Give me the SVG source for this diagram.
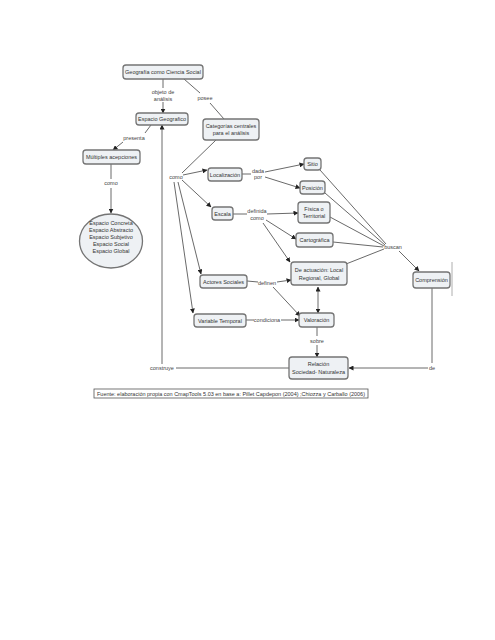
<svg xmlns="http://www.w3.org/2000/svg" width="495" height="640" viewBox="0 0 495 640">
<style>
.n{fill:#eef1f4;stroke:#747474;stroke-width:1.3}
.t{font-family:"Liberation Sans",Arial,sans-serif;font-size:5.5px;fill:#333;text-anchor:middle}
.l{font-family:"Liberation Sans",Arial,sans-serif;font-size:5.5px;fill:#444;text-anchor:middle}
.c{fill:none;stroke:#6a6a6a;stroke-width:1}
.a{marker-end:url(#ar)}
</style>
<defs>
<marker id="ar" markerUnits="userSpaceOnUse" markerWidth="5" markerHeight="5" refX="4.5" refY="2.5" orient="auto">
<path d="M0,0 L5,2.5 L0,5 z" fill="#222"/>
</marker>
<marker id="as" markerUnits="userSpaceOnUse" markerWidth="5" markerHeight="5" refX="0.5" refY="2.5" orient="auto">
<path d="M5,0 L0,2.5 L5,5 z" fill="#222"/>
</marker>
</defs>
<rect width="495" height="640" fill="#fff"/>
<g id="connectors">
<line class="c" x1="163" y1="79" x2="163" y2="88"/>
<line class="c a" x1="163" y1="102" x2="163" y2="113"/>
<line class="c" x1="184" y1="79" x2="200" y2="93"/>
<line class="c" x1="210" y1="103" x2="224" y2="119"/>
<line class="c" x1="151" y1="125" x2="145" y2="133"/>
<line class="c a" x1="123" y1="142" x2="113" y2="150"/>
<line class="c" x1="111" y1="164" x2="111" y2="179"/>
<line class="c a" x1="111" y1="188" x2="111" y2="213"/>
<line class="c" x1="289" y1="368" x2="176" y2="368"/>
<line class="c a" x1="162" y1="364" x2="162" y2="125"/>
<line class="c" x1="216" y1="140" x2="182" y2="173"/>
<line class="c a" x1="183" y1="175" x2="207" y2="170"/>
<line class="c a" x1="182" y1="180" x2="211" y2="207"/>
<line class="c a" x1="178" y1="182" x2="201" y2="274"/>
<line class="c a" x1="174" y1="182" x2="193" y2="313"/>
<line class="c" x1="242" y1="174" x2="251" y2="174"/>
<line class="c a" x1="265" y1="172" x2="304" y2="164"/>
<line class="c a" x1="265" y1="177" x2="300" y2="188"/>
<line class="c" x1="233" y1="214" x2="247" y2="214"/>
<line class="c a" x1="267" y1="214" x2="298" y2="213"/>
<line class="c a" x1="266" y1="220" x2="296" y2="239"/>
<line class="c a" x1="263" y1="223" x2="290" y2="262"/>
<line class="c" x1="247" y1="281" x2="258" y2="282"/>
<line class="c a" x1="277" y1="282" x2="291" y2="280"/>
<line class="c a" x1="273" y1="287" x2="300" y2="316"/>
<line class="c" x1="246" y1="320" x2="254" y2="320"/>
<line class="c a" x1="281" y1="320" x2="299" y2="320"/>
<line class="c a" x1="318" y1="287" x2="318" y2="313" marker-start="url(#as)"/>
<line class="c" x1="317" y1="327" x2="317" y2="336"/>
<line class="c a" x1="317" y1="345" x2="317" y2="357"/>
<line class="c" x1="320" y1="170" x2="386" y2="244"/>
<line class="c" x1="325" y1="193" x2="385" y2="245"/>
<line class="c" x1="330" y1="217" x2="384" y2="246"/>
<line class="c" x1="333" y1="242" x2="383" y2="247"/>
<line class="c" x1="346" y1="264" x2="384" y2="249"/>
<line class="c a" x1="399" y1="251" x2="419" y2="271"/>
<line class="c" x1="432" y1="288" x2="432" y2="363"/>
<line class="c a" x1="428" y1="368" x2="349" y2="368"/>
<line x1="452" y1="262" x2="452" y2="296" stroke="#999" stroke-width="0.8"/>
</g>
<g id="labels">
<text class="l" x="163" y="94">objeto de</text>
<text class="l" x="163" y="100.5">análisis</text>
<text class="l" x="205" y="100">posee</text>
<text class="l" x="134" y="140">presenta</text>
<text class="l" x="111" y="185">como</text>
<text class="l" x="162" y="370">construye</text>
<text class="l" x="176" y="179">como</text>
<text class="l" x="258" y="172.5">dada</text>
<text class="l" x="258" y="179">por</text>
<text class="l" x="257" y="213">definida</text>
<text class="l" x="257" y="219.5">como</text>
<text class="l" x="267" y="285">definen</text>
<text class="l" x="267" y="322">condiciona</text>
<text class="l" x="317" y="343">sobre</text>
<text class="l" x="393" y="249">buscan</text>
<text class="l" x="432" y="369.5">de</text>
</g>
<g id="geografia"><rect class="n" x="123" y="65" width="80" height="14" rx="3"/><text class="t" x="163" y="74">Geografía como Ciencia Social</text></g>
<g id="espacio"><rect class="n" x="136" y="113" width="52" height="12" rx="3"/><text class="t" x="162" y="121">Espacio Geografico</text></g>
<g id="categorias"><rect class="n" x="203" y="119" width="56" height="21" rx="3"/><text class="t" x="231" y="128">Categorías centrales</text><text class="t" x="231" y="135">para el análisis</text></g>
<g id="multiples"><rect class="n" x="83" y="150" width="57" height="14" rx="3"/><text class="t" x="111.5" y="159">Múltiples acepciones</text></g>
<g id="espacios"><ellipse class="n" cx="111" cy="241" rx="31.5" ry="27"/><text class="t" x="111" y="225">Espacio Concreta</text><text class="t" x="111" y="232">Espacio Abstracto</text><text class="t" x="111" y="239">Espacio Subjetivo</text><text class="t" x="111" y="246">Espacio Social</text><text class="t" x="111" y="253">Espacio Global</text></g>
<g id="localizacion"><rect class="n" x="208" y="168" width="34" height="13" rx="3"/><text class="t" x="225" y="176.5">Localización</text></g>
<g id="sitio"><rect class="n" x="304" y="158" width="17" height="12" rx="3"/><text class="t" x="312.5" y="166">Sitio</text></g>
<g id="posicion"><rect class="n" x="300" y="181" width="25" height="13" rx="3"/><text class="t" x="312.5" y="189.5">Posición</text></g>
<g id="escala"><rect class="n" x="212" y="207" width="21" height="13" rx="3"/><text class="t" x="222.5" y="215.5">Escala</text></g>
<g id="fisica"><rect class="n" x="298" y="202" width="32" height="21" rx="3"/><text class="t" x="314" y="210.5">Física o</text><text class="t" x="314" y="218">Territorial</text></g>
<g id="cartografica"><rect class="n" x="296" y="233" width="37" height="14" rx="3"/><text class="t" x="314.5" y="242">Cartográfica</text></g>
<g id="actuacion"><rect class="n" x="291" y="262" width="56" height="23" rx="3"/><text class="t" x="319" y="271.5">De actuación: Local</text><text class="t" x="319" y="279.5">Regional, Global</text></g>
<g id="actores"><rect class="n" x="200" y="275" width="47" height="13" rx="3"/><text class="t" x="223.5" y="283.5">Actores Sociales</text></g>
<g id="variable"><rect class="n" x="194" y="314" width="52" height="13" rx="3"/><text class="t" x="220" y="322.5">Variable Temporal</text></g>
<g id="valoracion"><rect class="n" x="299" y="313" width="35" height="14" rx="3"/><text class="t" x="316.5" y="322">Valoración</text></g>
<g id="relacion"><rect class="n" x="289" y="357" width="59" height="22" rx="3"/><text class="t" x="318.5" y="366">Relación</text><text class="t" x="318.5" y="374">Sociedad- Naturaleza</text></g>
<g id="comprension"><rect class="n" x="413" y="272" width="37" height="16" rx="3"/><text class="t" x="431.5" y="282">Comprensión</text></g>
<g id="fuente"><rect x="94" y="389" width="274" height="9" fill="#fff" stroke="#555" stroke-width="0.8"/><text x="97" y="395.7" font-family="Liberation Sans, Arial, sans-serif" font-size="5.3" fill="#333" textLength="268" lengthAdjust="spacingAndGlyphs">Fuente: elaboración propia con CmapTools 5.03 en base a: Pillet Capdepon (2004) ;Chiozza y Carballo (2006)</text></g>
</svg>
